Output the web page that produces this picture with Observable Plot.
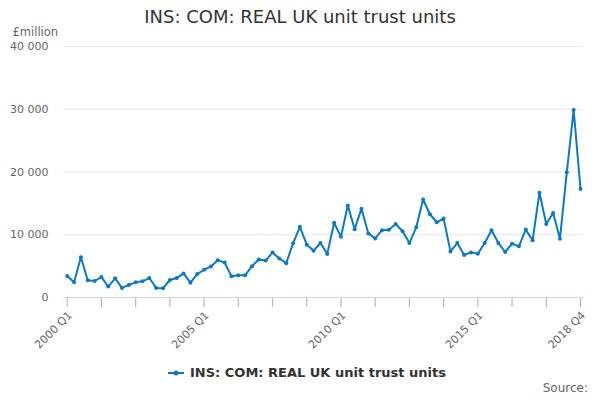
<!DOCTYPE html>
<html>
<head>
<meta charset="utf-8">
<script src="https://cdn.jsdelivr.net/npm/d3@7"></script>
<script src="https://cdn.jsdelivr.net/npm/@observablehq/plot@0.6"></script>
<style>
  body { margin: 0; background: #fff; font-family: "DejaVu Sans", sans-serif; }
  #wrap { position: relative; width: 600px; height: 400px; overflow: hidden; }
  #title { position: absolute; top: 5px; left: 0; width: 600px; text-align: center; font-size: 18px; color: #333; line-height: 24px; }
  #chart { position: absolute; top: 0; left: 0; }
  #legend { position: absolute; top: 364px; left: 168px; font-size: 13px; font-weight: bold; color: #333; display: flex; align-items: center; line-height: 18px; }
  #legend svg { margin-right: 6px; }
  #source { position: absolute; top: 381px; right: 12px; font-size: 12px; color: #666; }
</style>
</head>
<body>
<div id="wrap">
  <div id="chart"></div>
  <div id="title">INS: COM: REAL UK unit trust units</div>
  <div id="legend"><svg width="16" height="10"><line x1="0" y1="5" x2="16" y2="5" stroke="#0a7ac6" stroke-width="2"/><circle cx="8" cy="5" r="2.5" fill="#0a7ac6"/></svg>INS: COM: REAL UK unit trust units</div>
  <div id="source">Source:</div>
</div>
<script>
const years = d3.range(2000, 2019);
const quarters = ["Q1", "Q2", "Q3", "Q4"];
const periods = years.flatMap(y => quarters.map(q => `${y} ${q}`));
const values = [
  3420, 2420, 6420, 2740, 2630, 3260, 1740, 3050, 1530, 2000, 2420, 2580,
  3100, 1530, 1470, 2790, 3100, 3840, 2370, 3740, 4420, 4950, 5950, 5580,
  3370, 3530, 3530, 5000, 6050, 5890, 7160, 6210, 5470, 8630, 11260, 8420,
  7470, 8680, 6950, 11900, 9680, 14680, 10890, 14160, 10210, 9420, 10730, 10800,
  11720, 10550, 8680, 11190, 15610, 13270, 11990, 12570, 7350, 8680, 6770, 7190,
  6980, 8680, 10710, 8680, 7250, 8580, 8150, 10820, 9110, 16680, 11720, 13480,
  9380, 19980, 29890, 17310
];
const yTicks = [0, 10000, 20000, 30000, 40000];
const tickIdx = d3.range(0, 76, 5);
const labelIdx = [0, 20, 40, 60, 75];
const yLabel = ["£million"];

const data = values.map((v, i) => ({i, period: periods[i], value: v}));
const tickRows = tickIdx.map(i => ({i}));
const fmt = v => v === 0 ? "0" : d3.format(",")(v).replace(/,/g, " ");
const blue = "#0a7ac6";

const chart = Plot.plot({
  width: 600,
  height: 355,
  marginTop: 46,
  marginBottom: 58,
  marginLeft: 63,
  marginRight: 17,
  style: {fontFamily: "DejaVu Sans, sans-serif", fontSize: "11px", color: "#666", background: "transparent"},
  x: {domain: [0, 75], insetLeft: 3.7, insetRight: 3, axis: null},
  y: {domain: [0, 40000], axis: null},
  marks: [
    Plot.ruleY(yTicks.slice(1), {stroke: "#e6e6e6", strokeWidth: 1}),
    Plot.tickX(tickRows, {x: "i", stroke: "#a9b8d8", strokeWidth: 1.2, insetTop: 251, insetBottom: -10}),
    Plot.ruleY([0], {stroke: "#ccd6eb", strokeWidth: 1}),
    Plot.text(yTicks, {y: d => d, text: fmt, frameAnchor: "left", textAnchor: "end", dx: -15, fill: "#666", fontSize: 11}),
    Plot.text(labelIdx, {x: d => d, text: d => periods[d], frameAnchor: "bottom", textAnchor: "end", lineAnchor: "middle", rotate: -45, dx: 3, dy: 16, fill: "#666", fontSize: 11}),
    Plot.text(yLabel, {text: d => d, frameAnchor: "top-left", textAnchor: "start", lineAnchor: "middle", dx: -51, dy: -14, fill: "#666", fontSize: 11.5}),
    Plot.line(data, {x: "i", y: "value", stroke: blue, strokeWidth: 2}),
    Plot.dot(data, {x: "i", y: "value", fill: blue, r: 2})
  ]
});
document.getElementById("chart").appendChild(chart);
</script>
</body>
</html>
